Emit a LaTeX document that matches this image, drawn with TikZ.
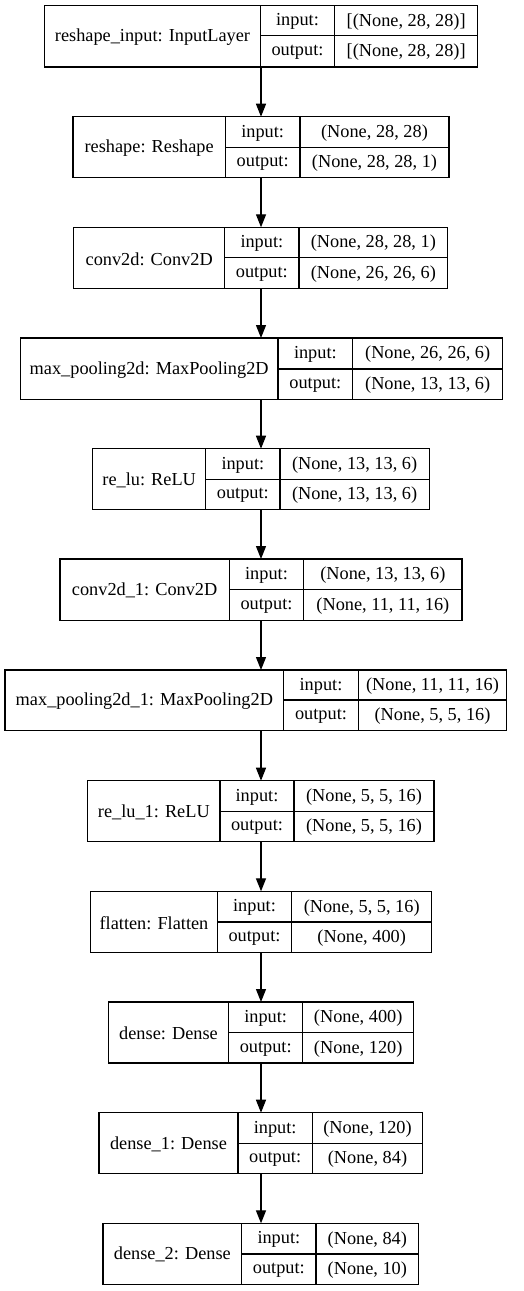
\documentclass[tikz,border=0pt]{standalone}
\usepackage{fontspec}
\setmainfont{Liberation Serif}
\usetikzlibrary{arrows.meta,fit}
\begin{document}
\begin{tikzpicture}[x=1pt,y=-1pt,
  kframe/.style={draw=black,line width=1.3pt,inner sep=0pt,outer sep=0pt},
  kline/.style={draw=black,line width=1.3pt},
  ktext/.style={inner sep=0pt,font=\fontsize{18.3}{22}\selectfont,anchor=center},
  karrow/.style={draw=black,line width=1.3pt,-{Triangle[length=13pt,width=10pt]}}]
\useasboundingbox (0,0) rectangle (523,1291);
\coordinate (axis) at (261,0);
\foreach \id/\L/\A/\B/\R/\T/\M/\D/\nm/\vi/\vo in {
 b0/44.7/260.3/334.7/477.7/5.7/35.7/67/{reshape\_input: InputLayer}/{[(None, 28, 28)]}/{[(None, 28, 28)]},
 b1/73/225.3/300/449/116.7/147.3/177.3/{reshape: Reshape}/{(None, 28, 28)}/{(None, 28, 28, 1)},
 b2/73.7/224.7/299/447.7/227.3/257.7/288.3/{conv2d: Conv2D}/{(None, 28, 28, 1)}/{(None, 26, 26, 6)},
 b3/20.3/278/352.7/502.7/338/369/399.3/{max\_pooling2d: MaxPooling2D}/{(None, 26, 26, 6)}/{(None, 13, 13, 6)},
 b4/92.7/205.7/280/429.3/448.7/479.3/509.7/{re\_lu: ReLU}/{(None, 13, 13, 6)}/{(None, 13, 13, 6)},
 b5/60/229.3/303.7/462/559/589.7/620.3/{conv2d\_1: Conv2D}/{(None, 13, 13, 6)}/{(None, 11, 11, 16)},
 b6/5/283.7/358.3/506.7/670/700/730.3/{max\_pooling2d\_1: MaxPooling2D}/{(None, 11, 11, 16)}/{(None, 5, 5, 16)},
 b7/87.7/220/294/434/780.7/811.3/841.7/{re\_lu\_1: ReLU}/{(None, 5, 5, 16)}/{(None, 5, 5, 16)},
 b8/90.7/217.3/291.7/431.7/891.3/922/952.3/{flatten: Flatten}/{(None, 5, 5, 16)}/{(None, 400)},
 b9/108.3/228.7/302.7/413.7/1002/1032.7/1063/{dense: Dense}/{(None, 400)}/{(None, 120)},
 b10/99/238/312.3/422.7/1112.7/1143.3/1173.7/{dense\_1: Dense}/{(None, 120)}/{(None, 84)},
 b11/103/241.7/316/418.7/1223.3/1254/1284.3/{dense\_2: Dense}/{(None, 84)}/{(None, 10)}}
{
  \coordinate (\id-nw) at (\L,\T);
  \coordinate (\id-se) at (\R,\D);
  \node[kframe,fit=(\id-nw)(\id-se)] (\id) {};
  \draw[kline] (\A,\T) -- (\A,\D) (\B,\T) -- (\B,\D) (\A,\M) -- (\R,\M);
  \node[ktext] (\id-name) at ({(\L+\A)/2},{(\T+\D)/2+1}) {\nm};
  \node[ktext] (\id-li) at ({(\A+\B)/2},{(\T+\M)/2+1}) {input:};
  \node[ktext] (\id-lo) at ({(\A+\B)/2},{(\M+\D)/2+1}) {output:};
  \node[ktext] (\id-vi) at ({(\B+\R)/2},{(\T+\M)/2+1}) {\vi};
  \node[ktext] (\id-vo) at ({(\B+\R)/2},{(\M+\D)/2+1}) {\vo};
}
\foreach \a/\b in {b0/b1,b1/b2,b2/b3,b3/b4,b4/b5,b5/b6,b6/b7,b7/b8,b8/b9,b9/b10,b10/b11}
  \draw[karrow] (\a.south -| axis) -- (\b.north -| axis);
\end{tikzpicture}
\end{document}
